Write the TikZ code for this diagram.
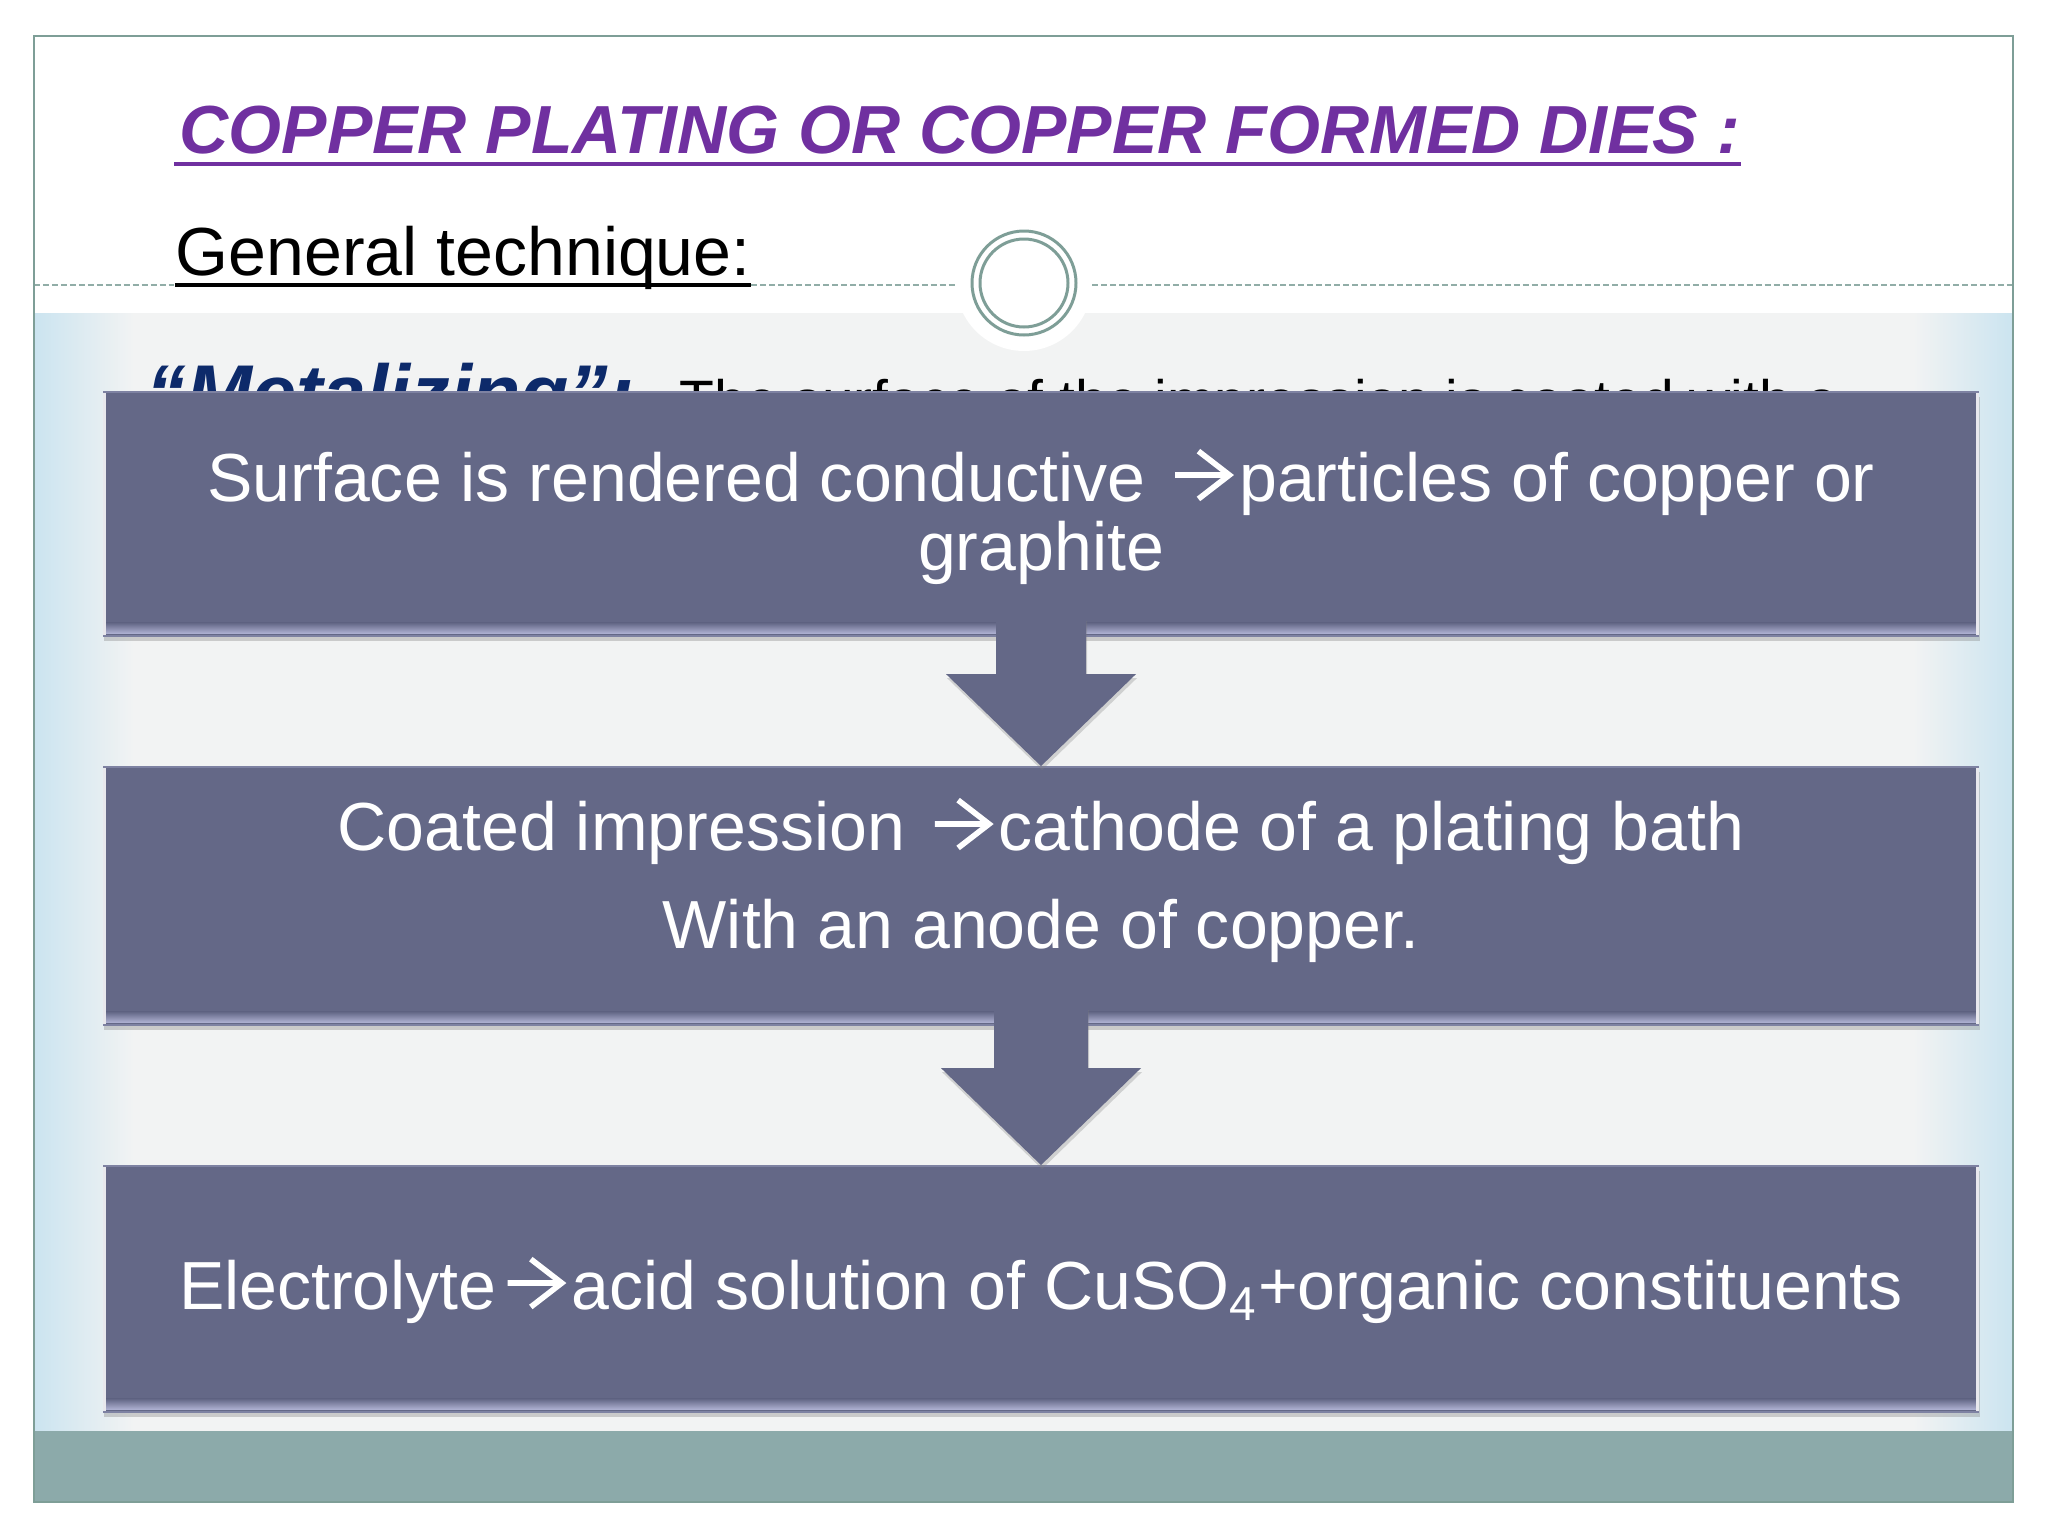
\documentclass[tikz,border=0pt]{standalone}
\usepackage{fontspec}
\setmainfont{Liberation Sans}
\usetikzlibrary{calc,shadows}

\definecolor{framegreen}{HTML}{7E9E97}
\definecolor{footerteal}{HTML}{8CAAAA}
\definecolor{bandblue}{HTML}{CBE4F0}
\definecolor{bandgray}{HTML}{F2F3F3}
\definecolor{titlepurple}{HTML}{7030A0}
\definecolor{metalnavy}{HTML}{0D2A6A}
\definecolor{boxslate}{HTML}{646887}
\definecolor{boxedge}{HTML}{7E82A2}
\definecolor{bevel}{HTML}{B2B5D6}

% open arrow as printed in the boxes
\newcommand{\chevarrow}{\hspace{2.3pt}\tikz[x=1pt, y=1pt, baseline=0pt, line width=1.6pt, line join=miter]
  \draw[white] (0,7.4) -- (14.6,7.4) (6.6,14.2) -- (15.4,7.4) -- (6.6,0.6);\hspace{2pt}}

\tikzset{
  stagebox/.style={rectangle, fill=boxslate, draw=boxedge, line width=0.5pt,
    minimum width=18.74cm, inner sep=0pt,
    drop shadow={shadow xshift=0.01cm, shadow yshift=-0.05cm, opacity=0.35}},
  stagetext/.style={anchor=base, inner sep=0pt, text=white,
    font=\fontsize{19.35}{23}\selectfont},
  flowarrow/.style={fill=boxslate,
    drop shadow={shadow xshift=0.01cm, shadow yshift=-0.04cm, opacity=0.3}},
  edgeline/.style={white!85!boxslate, line width=0.8pt},
  ringline/.style={framegreen, line width=0.85pt},
  dashline/.style={framegreen!85, line width=0.5pt, dash pattern=on 1.7pt off 0.85pt},
}

\begin{document}
\begin{tikzpicture}[x=0.01cm, y=-0.01cm]
  \useasboundingbox (0,0) rectangle (2048,1536);
  % background
  \fill[white] (0,0) rectangle (2048,1536);
  \draw[dashline] (34,285) -- (2013,285);
  \fill[bandgray] (34,313) rectangle (2013,1431);
  \shade[left color=bandblue, right color=bandgray] (34,313) rectangle (134,1431);
  \shade[left color=bandgray, right color=bandblue] (1913,313) rectangle (2013,1431);
  \fill[footerteal] (34,1431) rectangle (2013,1502);
  % ring
  \coordinate (ring) at (1024,283);
  \fill[white] (ring) circle [radius=68];
  \draw[ringline] (ring) circle [radius=52];
  \draw[ringline] (ring) circle [radius=44];

  % headings
  \node[anchor=base west, inner sep=0pt, text=titlepurple,
    font=\fontsize{19.35}{23}\selectfont\bfseries\itshape] (title) at (179,153)
    {COPPER PLATING OR COPPER FORMED DIES :};
  \draw[titlepurple, line width=1.4pt] ($(title.base west)+(-5,11)$) -- ($(title.base east)+(0,11)$);
  \node[anchor=base west, inner sep=0pt, font=\fontsize{19.35}{23}\selectfont] (general) at (175,275)
    {General technique:};
  \draw[line width=1.1pt] ($(general.base west)+(0,10)$) -- ($(general.base east)+(0,10)$);
  \node[anchor=base west, inner sep=0pt, text=metalnavy,
    font=\fontsize{22.5}{26}\selectfont\bfseries\itshape] (metal) at (146,420)
    {“Metalizing”:};
  \node[anchor=base west, inner sep=0pt, font=\fontsize{16.2}{20}\selectfont] (metaltext) at (679,420)
    {The surface of the impression is coated with a};

  % boxes
  \node[stagebox, minimum height=2.44cm] (surfacebox) at (1041,514) {};
  \node[stagebox, minimum height=2.58cm] (coatedbox) at (1041,896) {};
  \node[stagebox, minimum height=2.46cm] (electrobox) at (1041,1289) {};
  \foreach \b in {surfacebox,coatedbox,electrobox} {
    \shade[top color=boxslate, bottom color=bevel] ($(\b.south west)+(3,-14)$) rectangle ($(\b.south east)+(-3,-3)$);
    \draw[edgeline] ($(\b.south west)+(2,-2)$) -- ($(\b.north west)+(2,2)$);
    \draw[edgeline] ($(\b.south east)+(-2,-2)$) -- ($(\b.north east)+(-2,2)$);
  }
  \node[stagetext] (surfaceline1) at ($(surfacebox.north)+(0,110)$)
    {Surface is rendered conductive \chevarrow particles of copper or};
  \node[stagetext] (surfaceline2) at ($(surfacebox.north)+(0,179)$) {graphite};
  \node[stagetext] (coatedline1) at ($(coatedbox.north)+(0,84)$)
    {Coated impression \chevarrow cathode of a plating bath};
  \node[stagetext] (coatedline2) at ($(coatedbox.north)+(0,182)$) {With an anode of copper.};
  \node[stagetext] (electroline) at ($(electrobox.north)+(0,144)$)
    {Electrolyte\chevarrow acid solution of CuSO\textsubscript{4}+organic constituents};

  % arrows
  \fill[flowarrow] ($(surfacebox.south)+(-45,-20)$) -- ($(coatedbox.north)+(-45,-92)$)
    -- ($(coatedbox.north)+(-95,-92)$) -- (coatedbox.north) -- ($(coatedbox.north)+(95,-92)$)
    -- ($(coatedbox.north)+(45,-92)$) -- ($(surfacebox.south)+(45,-20)$) -- cycle;
  \fill[flowarrow] ($(coatedbox.south)+(-47,-20)$) -- ($(electrobox.north)+(-47,-97)$)
    -- ($(electrobox.north)+(-100,-97)$) -- (electrobox.north) -- ($(electrobox.north)+(100,-97)$)
    -- ($(electrobox.north)+(47,-97)$) -- ($(coatedbox.south)+(47,-20)$) -- cycle;

  % frame
  \draw[framegreen, line width=0.6pt] (34,36) rectangle (2013,1502);
\end{tikzpicture}
\end{document}
